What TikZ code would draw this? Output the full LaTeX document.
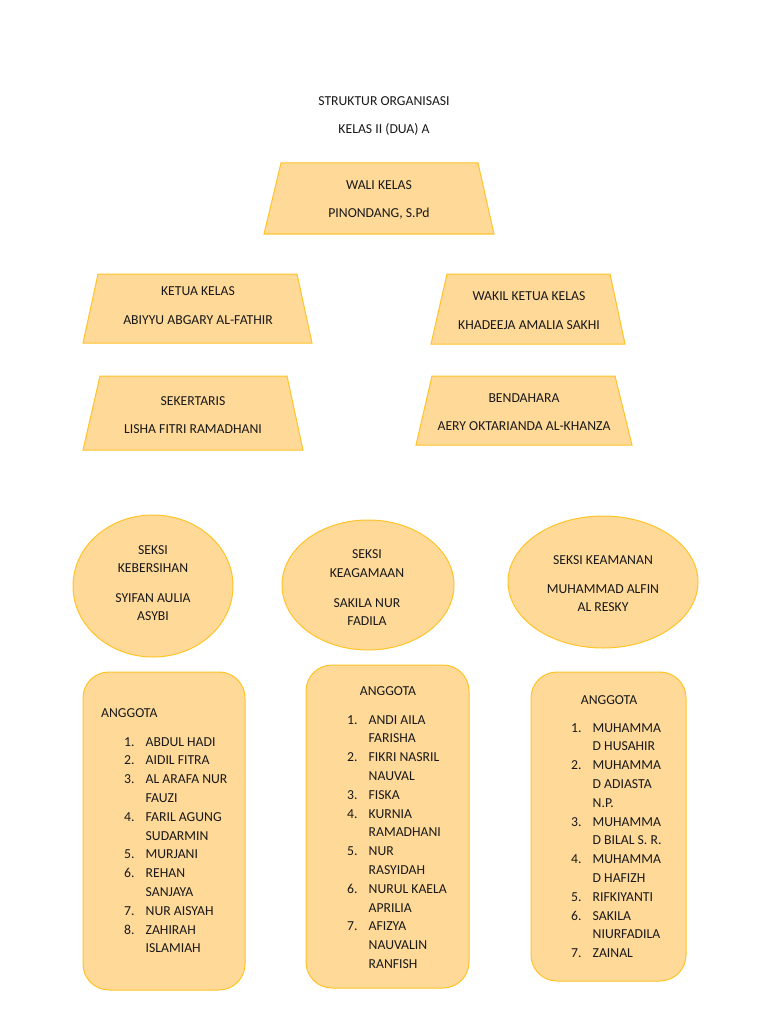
\documentclass[tikz,border=0pt]{standalone}
\usepackage{fontspec}
\setmainfont{Carlito}
\usepackage{array}
\definecolor{boxfill}{RGB}{255,217,152}
\definecolor{boxline}{RGB}{255,196,40}
\definecolor{txt}{RGB}{25,25,25}
\tikzset{
  shp/.style={fill=boxfill,draw=boxline,line width=1pt},
  lbl/.style={anchor=base,inner sep=0pt,text=txt,font=\fontsize{13.7}{18.8}\selectfont},
  lst/.style={anchor=base west,inner sep=0pt,text=txt,font=\fontsize{13.7}{18.8}\selectfont}
}
\newcommand{\mylist}[1]{\begin{tabular}[t]{@{}p{21.5pt}@{}l@{}}#1\end{tabular}}
\begin{document}
\begin{tikzpicture}[x=1pt,y=-1pt]
\useasboundingbox[fill=white] (0,0) rectangle (768,1024);
% title
\node[lbl] (t1) at (384,106) {STRUKTUR ORGANISASI};
\node[lbl] (t2) at (384,134) {KELAS II (DUA) A};
% trapezoids
\draw[shp] (281,163) -- (478,163) -- (494,234) -- (264,234) -- cycle;
\node[lbl] (w1) at (379,190) {WALI KELAS};
\node[lbl] (w2) at (379,218) {PINONDANG, S.Pd};
\draw[shp] (98,274) -- (297,274) -- (312,343) -- (83,343) -- cycle;
\node[lbl] (k1) at (198,295) {KETUA KELAS};
\node[lbl] (k2) at (198,324) {ABIYYU ABGARY AL-FATHIR};
\draw[shp] (447,274) -- (610,274) -- (625,344) -- (431,344) -- cycle;
\node[lbl] (wk1) at (529,300) {WAKIL KETUA KELAS};
\node[lbl] (wk2) at (529,329) {KHADEEJA AMALIA SAKHI};
\draw[shp] (100,376) -- (287,376) -- (303,450) -- (83,450) -- cycle;
\node[lbl] (s1) at (193,405) {SEKERTARIS};
\node[lbl] (s2) at (193,433) {LISHA FITRI RAMADHANI};
\draw[shp] (432,376) -- (615,376) -- (632,445) -- (416,445) -- cycle;
\node[lbl] (b1) at (524,402) {BENDAHARA};
\node[lbl] (b2) at (524,430) {AERY OKTARIANDA AL-KHANZA};
% ellipses
\draw[shp] (153,586) ellipse [x radius=80,y radius=71];
\node[lbl] (e1a) at (153,554) {SEKSI};
\node[lbl] (e1b) at (153,572) {KEBERSIHAN};
\node[lbl] (e1c) at (153,602) {SYIFAN AULIA};
\node[lbl] (e1d) at (153,620) {ASYBI};
\draw[shp] (368,585) ellipse [x radius=86,y radius=65];
\node[lbl] (e2a) at (367,558) {SEKSI};
\node[lbl] (e2b) at (367,577) {KEAGAMAAN};
\node[lbl] (e2c) at (367,607) {SAKILA NUR};
\node[lbl] (e2d) at (367,625) {FADILA};
\draw[shp] (603,582) ellipse [x radius=95,y radius=66];
\node[lbl] (e3a) at (603,564) {SEKSI KEAMANAN};
\node[lbl] (e3b) at (603,593) {MUHAMMAD ALFIN};
\node[lbl] (e3c) at (603,611) {AL RESKY};
% rounded boxes
\draw[shp,rounded corners=26pt] (83,672) rectangle (245,990);
\node[lst] (a1) at (101,717) {ANGGOTA};
\node[lst] (l1) at (124,746) {\mylist{%
1. & ABDUL HADI\\
2. & AIDIL FITRA\\
3. & AL ARAFA NUR\\
   & FAUZI\\
4. & FARIL AGUNG\\
   & SUDARMIN\\
5. & MURJANI\\
6. & REHAN\\
   & SANJAYA\\
7. & NUR AISYAH\\
8. & ZAHIRAH\\
   & ISLAMIAH}};
\draw[shp,rounded corners=26pt] (306,665) rectangle (469,988);
\node[lbl] (a2) at (388,695) {ANGGOTA};
\node[lst] (l2) at (347,724) {\mylist{%
1. & ANDI AILA\\
   & FARISHA\\
2. & FIKRI NASRIL\\
   & NAUVAL\\
3. & FISKA\\
4. & KURNIA\\
   & RAMADHANI\\
5. & NUR\\
   & RASYIDAH\\
6. & NURUL KAELA\\
   & APRILIA\\
7. & AFIZYA\\
   & NAUVALIN\\
   & RANFISH}};
\draw[shp,rounded corners=26pt] (531,672) rectangle (686,981);
\node[lbl] (a3) at (609,704) {ANGGOTA};
\node[lst] (l3) at (571,732) {\mylist{%
1. & MUHAMMA\\
   & D HUSAHIR\\
2. & MUHAMMA\\
   & D ADIASTA\\
   & N.P.\\
3. & MUHAMMA\\
   & D BILAL S. R.\\
4. & MUHAMMA\\
   & D HAFIZH\\
5. & RIFKIYANTI\\
6. & SAKILA\\
   & NIURFADILA\\
7. & ZAINAL}};
\end{tikzpicture}
\end{document}
